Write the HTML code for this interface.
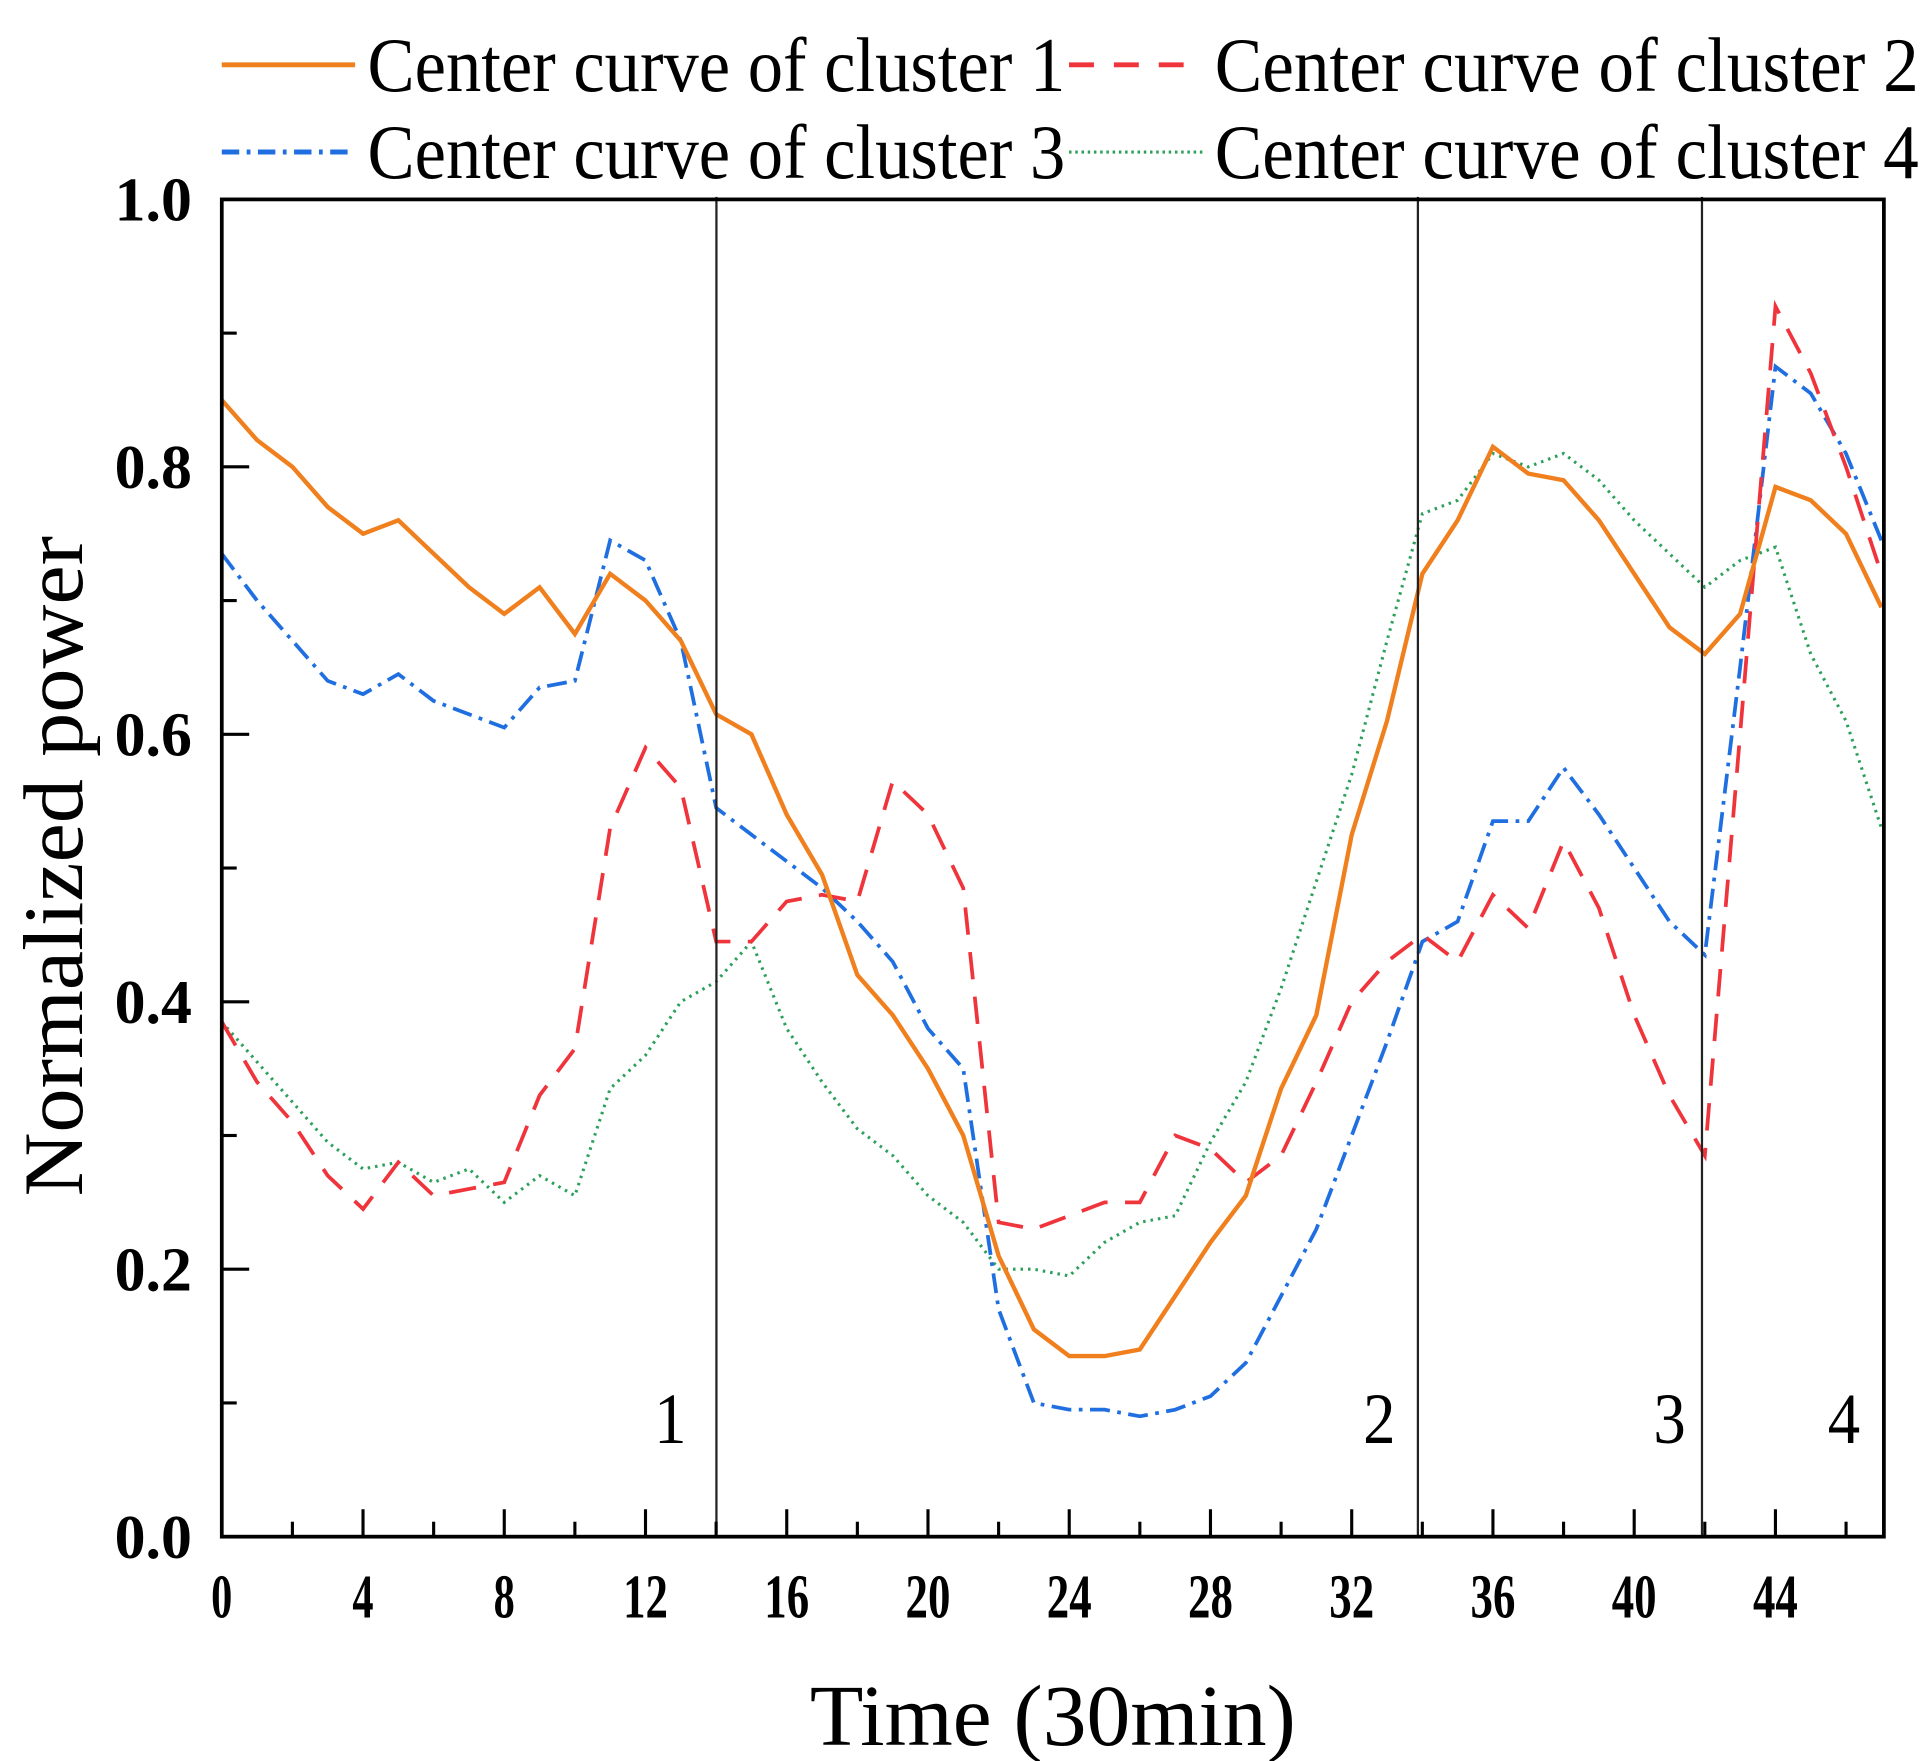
<!DOCTYPE html>
<html><head><meta charset="utf-8"><style>html,body{margin:0;padding:0;background:#fff;}svg{display:block}</style></head>
<body>
<svg id="s" width="1925" height="1761" viewBox="0 0 1545 1413" preserveAspectRatio="none" xmlns="http://www.w3.org/2000/svg" font-family="Liberation Serif, serif">
<g id="g"></g>
</svg>
<script>
const X=t=>178+t*28.34, Y=v=>1233-v*1073;
const d1=[.85,.82,.80,.77,.75,.76,.735,.71,.69,.71,.675,.72,.70,.67,.615,.60,.54,.495,.42,.39,.35,.30,.21,.155,.135,.135,.14,.18,.22,.255,.335,.39,.525,.61,.72,.76,.815,.795,.79,.76,.72,.68,.66,.69,.785,.775,.75,.695];
const d2=[.385,.34,.31,.27,.245,.28,.255,.26,.265,.33,.365,.53,.59,.56,.445,.445,.475,.48,.475,.565,.54,.485,.235,.23,.24,.25,.25,.30,.29,.265,.285,.34,.40,.43,.45,.43,.48,.455,.52,.47,.39,.33,.285,.60,.92,.87,.80,.72];
const d3=[.735,.70,.67,.64,.63,.645,.625,.615,.605,.635,.64,.745,.73,.67,.545,.525,.505,.485,.46,.43,.38,.35,.17,.10,.095,.095,.09,.095,.105,.13,.18,.23,.30,.37,.445,.46,.535,.535,.575,.54,.50,.46,.435,.65,.875,.855,.81,.745];
const d4=[.385,.355,.325,.295,.275,.28,.265,.275,.25,.27,.255,.335,.36,.40,.415,.445,.38,.34,.305,.285,.255,.235,.20,.20,.195,.22,.235,.24,.295,.34,.41,.49,.57,.67,.765,.775,.81,.80,.81,.79,.76,.735,.71,.73,.74,.66,.61,.53];
let h='';
const P=d=>d.map((v,i)=>(i?'L':'M')+X(i).toFixed(1)+' '+Y(v).toFixed(1)).join(' ');
h+=`<path d="${P(d4)}" fill="none" stroke="#2ca05a" stroke-width="2.5" stroke-dasharray="2 4"/>`;
h+=`<path d="${P(d3)}" fill="none" stroke="#1f6fe0" stroke-width="3" stroke-dasharray="16 6 3 6"/>`;
h+=`<path d="${P(d2)}" fill="none" stroke="#f0343c" stroke-width="3" stroke-dasharray="22 14"/>`;
h+=`<path d="${P(d1)}" fill="none" stroke="#f07f1e" stroke-width="3.5"/>`;
[575,1138,1366].forEach(x=>h+=`<line x1="${x}" y1="158" x2="${x}" y2="1233" stroke="#222" stroke-width="1.8"/>`);
h+=`<rect x="178" y="160" width="1334" height="1073" fill="none" stroke="#000" stroke-width="3"/>`;
for(let t=0;t<=46;t+=2){const L=(t%4==0)?22:12;h+=`<line x1="${X(t)}" y1="1233" x2="${X(t)}" y2="${1233-L}" stroke="#000" stroke-width="2.5"/>`;}
for(let t=0;t<=44;t+=4){const w=t<10?17:36;h+=`<text x="${X(t)-w/2}" y="1298" font-size="50" font-weight="bold" textLength="${w}" lengthAdjust="spacingAndGlyphs">${t}</text>`;}
for(let k=0;k<=10;k++){const L=(k%2==0)?22:12;h+=`<line x1="178" y1="${Y(k/10)}" x2="${178+L}" y2="${Y(k/10)}" stroke="#000" stroke-width="2.5"/>`;}
for(let k=0;k<=10;k+=2)h+=`<text x="92" y="${Y(k/10)+17}" font-size="50" font-weight="bold" textLength="62" lengthAdjust="spacingAndGlyphs">${(k/10).toFixed(1)}</text>`;
[[538,'1'],[1107,'2'],[1340,'3'],[1480,'4']].forEach(a=>h+=`<text x="${a[0]}" y="1158" font-size="58" text-anchor="middle" textLength="26" lengthAdjust="spacingAndGlyphs">${a[1]}</text>`);
h+=`<text x="650" y="1400" font-size="70" textLength="390" lengthAdjust="spacingAndGlyphs">Time (30min)</text>`;
h+=`<text transform="translate(66,960) rotate(-90)" font-size="68" textLength="530" lengthAdjust="spacingAndGlyphs">Normalized power</text>`;
h+=`<line x1="178" y1="52" x2="285" y2="52" stroke="#f07f1e" stroke-width="4"/>`;
h+=`<text x="295" y="73" font-size="62" textLength="560" lengthAdjust="spacingAndGlyphs">Center curve of cluster 1</text>`;
h+=`<line x1="858" y1="52" x2="965" y2="52" stroke="#f0343c" stroke-width="4" stroke-dasharray="20 16"/>`;
h+=`<text x="975" y="73" font-size="62" textLength="565" lengthAdjust="spacingAndGlyphs">Center curve of cluster 2</text>`;
h+=`<line x1="178" y1="122" x2="285" y2="122" stroke="#1f6fe0" stroke-width="4" stroke-dasharray="14 6 3 6"/>`;
h+=`<text x="295" y="143" font-size="62" textLength="560" lengthAdjust="spacingAndGlyphs">Center curve of cluster 3</text>`;
h+=`<line x1="858" y1="122" x2="965" y2="122" stroke="#2ca05a" stroke-width="2.5" stroke-dasharray="2 3"/>`;
h+=`<text x="975" y="143" font-size="62" textLength="565" lengthAdjust="spacingAndGlyphs">Center curve of cluster 4</text>`;
document.getElementById('g').innerHTML=h;
</script>
</body></html>
